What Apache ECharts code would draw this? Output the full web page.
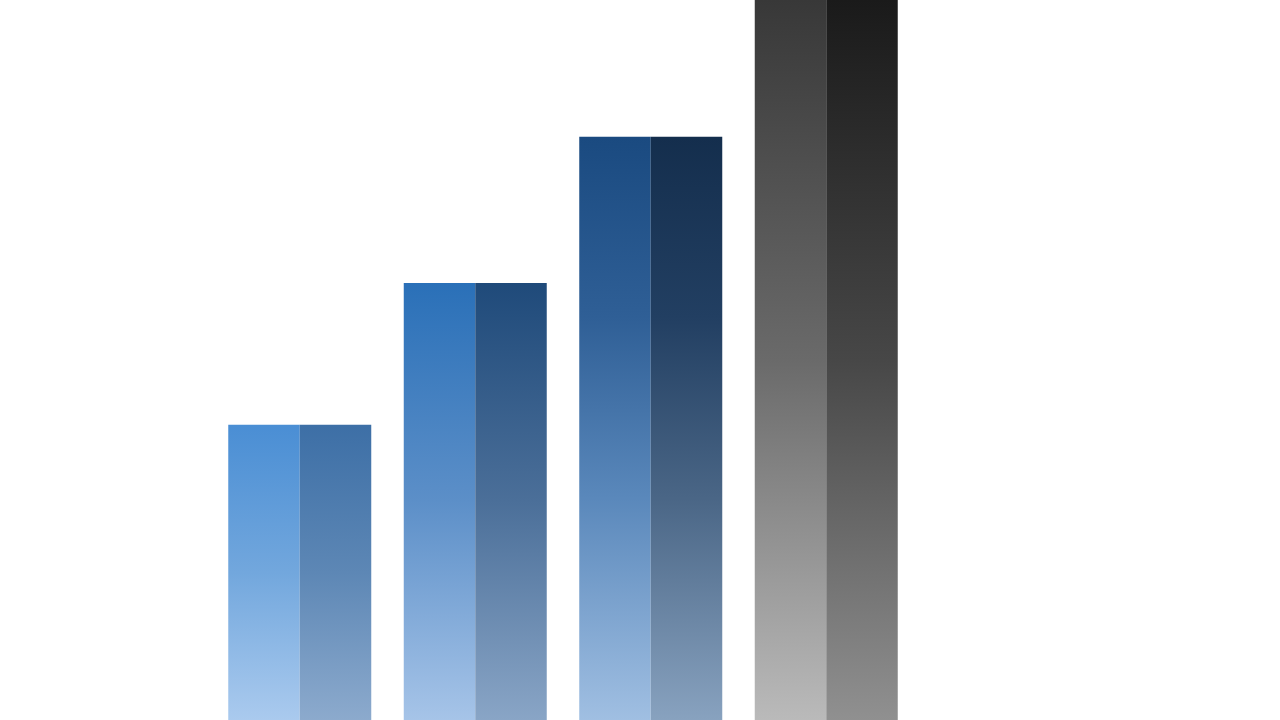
<!DOCTYPE html>
<html>
<head>
<meta charset="utf-8">
<script src="https://cdn.jsdelivr.net/npm/echarts@6/dist/echarts.min.js"></script>
<style>
html,body{margin:0;padding:0;background:#fff;}
#chart{width:1280px;height:720px;}
</style>
</head>
<body>
<div id="chart"></div>
<script>
const categories = ['1', '2', '3', '4'];
const values = [41, 60.7, 81, 100];

// styles (not data): gradient stops [offset, color]
const leftColors = [
  [[0, '#4a8ed4'], [0.5, '#72a7dd'], [1, '#aacaee']],
  [[0, '#2a70b8'], [0.5, '#5c8fc8'], [1, '#a6c4e8']],
  [[0, '#1a4a80'], [0.31, '#2f5f96'], [0.62, '#5a88bb'], [1, '#a0bfe2']],
  [[0, '#383838'], [0.5, '#6a6a6a'], [1, '#bababa']]
];
const rightColors = [
  [[0, '#3d6fa6'], [0.5, '#5d87b5'], [1, '#8caacd']],
  [[0, '#1f4a7a'], [0.5, '#4b6f99'], [1, '#89a5c6']],
  [[0, '#142e4d'], [0.31, '#223f62'], [0.62, '#4a6686'], [1, '#88a2bf']],
  [[0, '#1a1a1a'], [0.5, '#474747'], [1, '#909090']]
];

function grad(stops) {
  return new echarts.graphic.LinearGradient(0, 0, 0, 1,
    stops.map(s => ({ offset: s[0], color: s[1] })));
}

const chart = echarts.init(document.getElementById('chart'), null, { renderer: 'canvas' });
chart.setOption({
  animation: false,
  backgroundColor: '#ffffff',
  grid: { left: 212, right: 366, top: 0, bottom: 0, containLabel: false },
  xAxis: {
    type: 'category', data: categories,
    axisLine: { show: false }, axisTick: { show: false }, axisLabel: { show: false }, splitLine: { show: false }
  },
  yAxis: {
    type: 'value', min: 0, max: 100,
    axisLine: { show: false }, axisTick: { show: false }, axisLabel: { show: false }, splitLine: { show: false }
  },
  series: [
    {
      type: 'bar', barWidth: 71.5, barGap: '0%',
      data: values.map((v, i) => ({ value: v, itemStyle: { color: grad(leftColors[i]) } }))
    },
    {
      type: 'bar', barWidth: 71.5, barGap: '0%',
      data: values.map((v, i) => ({ value: v, itemStyle: { color: grad(rightColors[i]) } }))
    }
  ]
});
</script>
</body>
</html>
